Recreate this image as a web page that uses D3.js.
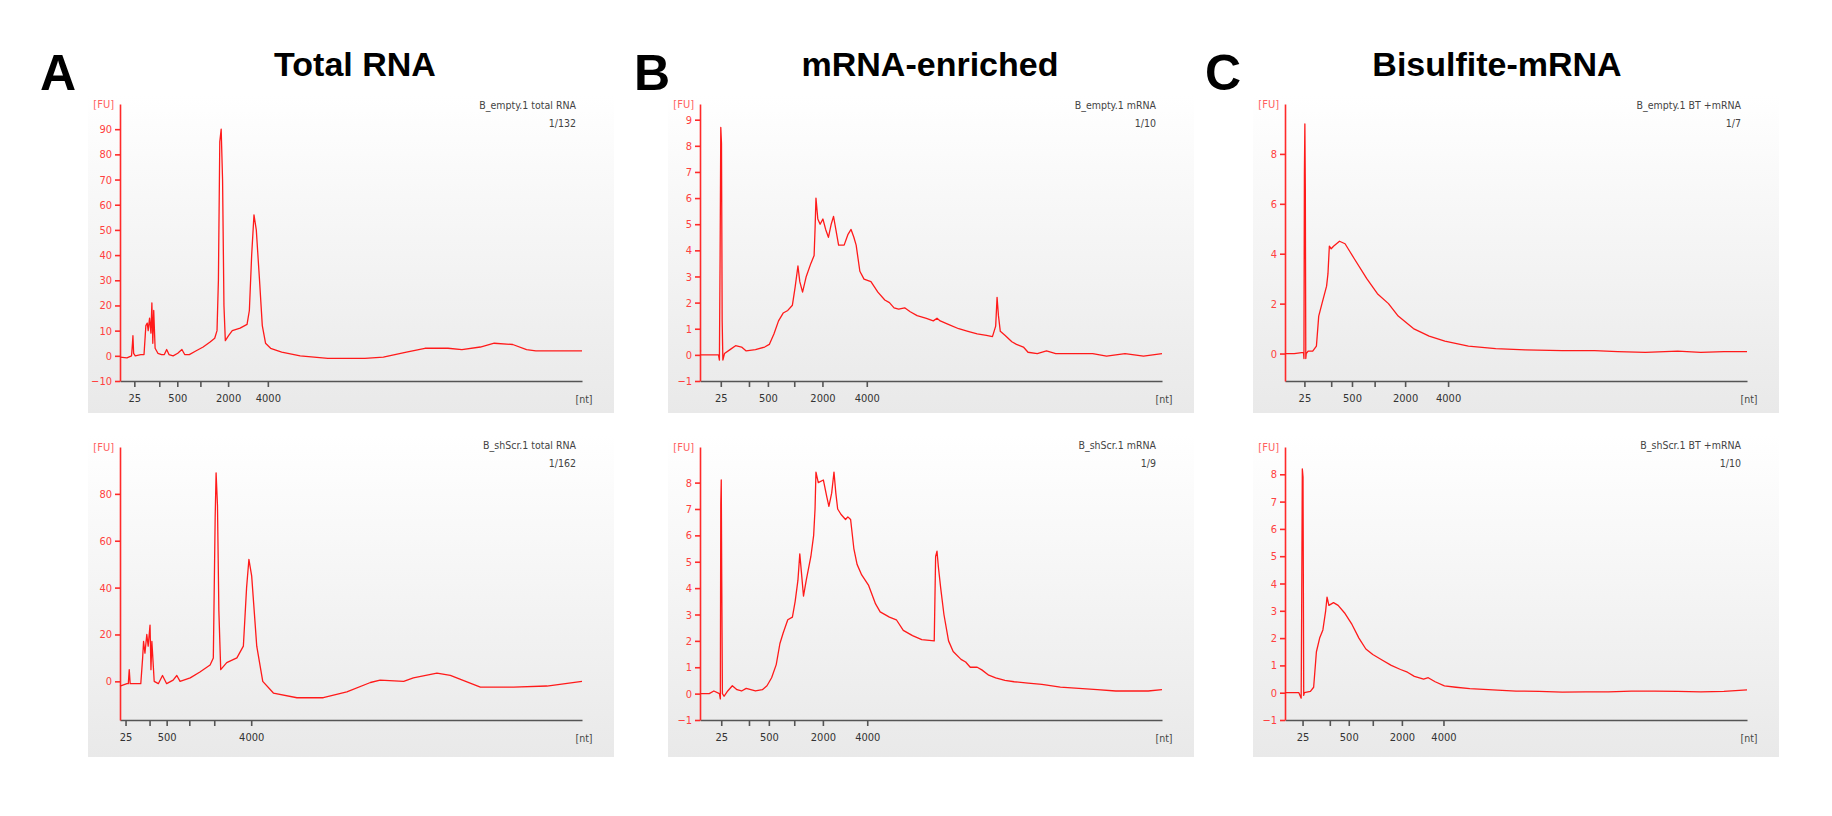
<!DOCTYPE html>
<html>
<head>
<meta charset="utf-8">
<script src="https://cdn.jsdelivr.net/npm/d3@7"></script>
<style>
  body { margin: 0; background: #fff; }
  svg { font-family: "Liberation Sans", Arial, sans-serif; }
  .lbl { font-family: "DejaVu Sans Condensed", "DejaVu Sans", sans-serif; font-size: 10.5px; fill: #444; }
  .yax text { fill: #ff4040; font-family: "DejaVu Sans Condensed", "DejaVu Sans", sans-serif; font-size: 11px; }
  .yax path, .yax line { stroke: #ff2a2a; stroke-width: 1.6px; }
  .xax text { fill: #333; font-family: "DejaVu Sans Condensed", "DejaVu Sans", sans-serif; font-size: 11px; }
  .xax path, .xax line { stroke: #555; stroke-width: 1.6px; }
</style>
</head>
<body>
<svg id="chart" width="1832" height="816"></svg>
<script>
// column titles and panel letters
const letters = ["A", "B", "C"];
const titles = ["Total RNA", "mRNA-enriched", "Bisulfite-mRNA"];

// sample names and dilution per trace (col, row)
const sampleNames = [
  ["B_empty.1 total RNA", "B_shScr.1 total RNA"],
  ["B_empty.1 mRNA", "B_shScr.1 mRNA"],
  ["B_empty.1 BT +mRNA", "B_shScr.1 BT +mRNA"]
];
const dilutions = [["1/132", "1/162"], ["1/10", "1/9"], ["1/7", "1/10"]];

// y ranges [FU] and y tick values
const yDomains = [[[-10, 100], [-16.5, 100]], [[-1, 9.6], [-1, 9.35]], [[-1.1, 10], [-1, 9]]];
const yTicks = [
  [[-10, 0, 10, 20, 30, 40, 50, 60, 70, 80, 90], [0, 20, 40, 60, 80]],
  [[-1, 0, 1, 2, 3, 4, 5, 6, 7, 8, 9], [-1, 0, 1, 2, 3, 4, 5, 6, 7, 8]],
  [[0, 2, 4, 6, 8], [-1, 0, 1, 2, 3, 4, 5, 6, 7, 8]]
];

// ladder tick positions (% of run time) and their labels
const xTickPos = [
  [[3.1, 8.5, 12.4, 17.4, 23.4, 32], [1.2, 6.4, 10.1, 15, 20.4, 28.4]],
  [[4.5, 10.6, 14.7, 20.4, 26.5, 36.1], [4.6, 10.6, 14.9, 20.4, 26.6, 36.2]],
  [[4.2, 10, 14.5, 19.4, 26, 35.3], [3.8, 9.7, 13.8, 19, 25.3, 34.3]]
];
const xTickLabels = [
  [["25", "", "500", "", "2000", "4000"], ["25", "", "500", "", "", "4000"]],
  [["25", "", "500", "", "2000", "4000"], ["25", "", "500", "", "2000", "4000"]],
  [["25", "", "500", "", "2000", "4000"], ["25", "", "500", "", "2000", "4000"]]
];

// electropherogram traces: [time %, FU]
const totalEmpty = [[0,-0.5],[1.5,-0.8],[2.5,0],[2.7,5],[2.8,8],[2.95,1],[3.3,0],[4.5,0.5],[5.2,0.5],[5.6,12],[5.9,13],[6.1,10],[6.4,15],[6.7,9],[6.9,21],[7.1,5],[7.3,18],[7.6,3],[8.2,1],[9,0.5],[9.6,0.5],[10.1,2.5],[10.6,0.5],[11.5,0],[12.5,1],[13.4,2.5],[14,0.5],[15,0.5],[16.5,2],[18,3.5],[19.5,5.5],[20.5,7],[21,10],[21.3,30],[21.6,85],[21.9,90],[22.2,70],[22.5,20],[22.8,6],[23.5,8],[24.3,10],[26,11],[27.5,12.5],[28,18],[28.5,40],[29,56],[29.5,50],[30.2,30],[30.8,12],[31.5,5],[32.6,3],[35,1.5],[39,0],[45,-1],[53,-1],[57,-0.5],[62,1.5],[66,3],[71,3],[74,2.5],[78,3.5],[81,5],[85,4.5],[88,2.5],[90,2],[100,2]];
const totalScr = [[0,-2],[1.5,-1],[1.8,-1],[2,5],[2.2,-1],[4.5,-1],[4.9,10],[5.1,17],[5.4,12],[5.8,20],[6.1,15],[6.5,24],[6.7,5],[6.9,17],[7.4,0],[8.3,-1],[9.2,2.5],[10.1,-1],[11.5,0.5],[12.3,2.5],[13,0],[15.2,1.5],[17.3,4],[19.5,7],[20.2,10],[20.6,70],[20.8,89],[21.1,75],[21.4,30],[21.8,5],[23.1,8],[25.3,10],[26.7,15],[27.4,40],[27.9,52],[28.5,45],[29.6,15],[30.9,0],[33.2,-5],[38.3,-7],[44,-7],[49.1,-4.5],[54.2,-0.5],[56.3,0.5],[61.4,0],[63.5,1.5],[68.6,3.5],[71.5,2.5],[78,-2.5],[85.2,-2.5],[92.4,-2],[100,0]];
const mrnaEmpty = [[0,0],[4,0],[4.2,-0.2],[4.35,3.7],[4.5,8.7],[4.65,8.1],[4.8,1.3],[4.95,-0.2],[5.3,0.05],[6.5,0.2],[7.7,0.35],[9,0.3],[10,0.15],[12,0.2],[14,0.3],[15,0.4],[16,0.8],[17,1.3],[18,1.6],[19,1.7],[20,1.9],[20.6,2.6],[21.2,3.4],[21.6,2.8],[22.2,2.4],[23,3],[24,3.5],[24.7,3.8],[24.9,4.8],[25.1,6],[25.5,5.2],[26,5],[26.6,5.2],[27.2,4.8],[27.8,4.5],[28.4,5],[28.9,5.3],[29.4,4.8],[30,4.2],[31.2,4.2],[32,4.6],[32.7,4.8],[33.3,4.5],[33.8,4.2],[34.6,3.2],[35.5,2.9],[37,2.8],[38.5,2.4],[40,2.1],[41,2],[42,1.8],[43,1.75],[44.3,1.8],[45.5,1.65],[47,1.5],[49,1.4],[50.5,1.3],[51.3,1.4],[52,1.3],[54,1.15],[56,1],[58,0.9],[60,0.8],[62,0.75],[63.3,0.7],[64,1.1],[64.3,2.2],[64.6,1.5],[65,0.9],[66,0.75],[67.5,0.5],[68.5,0.4],[70,0.3],[71,0.1],[73,0.05],[75,0.15],[77,0.05],[80,0.05],[85,0.05],[88,-0.05],[92,0.05],[96,-0.05],[100,0.05]];
const mrnaScr = [[0,0],[2,0],[3,0.1],[4.2,0],[4.4,-0.2],[4.5,7.2],[4.6,8.1],[4.7,4.5],[4.85,0],[5.2,-0.1],[6,0.1],[7,0.3],[8,0.15],[9,0.1],[10,0.2],[11,0.15],[12,0.1],[13.5,0.15],[14.5,0.3],[15.5,0.6],[16.5,1.1],[17.3,1.9],[18,2.3],[19,2.8],[20,2.9],[20.6,3.5],[21.2,4.3],[21.6,5.3],[22,4.5],[22.4,3.7],[23,4.3],[24,5.2],[24.6,6],[24.9,7],[25.1,8.4],[25.6,8],[26.7,8.1],[27.4,7.5],[27.9,7.1],[28.5,7.6],[29,8.4],[29.4,7.6],[29.8,7],[30.5,6.8],[31.5,6.6],[32,6.7],[32.6,6.6],[33.3,5.5],[34,4.9],[35,4.5],[36.5,4.1],[38,3.4],[39,3.1],[41,2.9],[42.5,2.8],[44,2.4],[46,2.2],[48,2.05],[50.7,2],[51,5.2],[51.3,5.4],[51.6,4.8],[52.1,4],[52.8,3],[53.8,2],[54.8,1.6],[56.5,1.3],[57.5,1.2],[58.5,1],[60,1],[61,0.9],[62.5,0.7],[64,0.6],[66,0.5],[68,0.45],[71,0.4],[74,0.35],[78,0.25],[82,0.2],[86,0.15],[90,0.1],[94,0.1],[97,0.1],[100,0.15]];
const bisEmpty = [[0,0],[2,0],[4,0.05],[4.1,-0.2],[4.2,7.2],[4.3,9.2],[4.4,6.6],[4.5,-0.2],[4.6,0],[5,0.1],[6,0.1],[6.8,0.3],[7.3,1.5],[8,2],[9,2.7],[9.3,3.2],[9.6,4.3],[10,4.2],[10.5,4.3],[11.8,4.5],[13,4.4],[14,4.1],[15,3.8],[17.7,3],[20,2.4],[22.4,2],[24.5,1.5],[27.8,1],[31.2,0.7],[34.6,0.5],[39.7,0.3],[45.6,0.2],[52,0.15],[60,0.12],[67,0.12],[72,0.08],[78,0.05],[85,0.1],[90,0.05],[95,0.08],[100,0.08]];
const bisScr = [[0,0],[3,0],[3.5,-0.2],[3.6,2.8],[3.75,8.2],[3.9,7.9],[4.05,-0.1],[4.2,0],[5.5,0.05],[6.2,0.2],[6.8,1.5],[7.5,2],[8.2,2.3],[8.8,3],[9.1,3.5],[9.5,3.2],[10.5,3.3],[11.5,3.2],[13,2.9],[14.5,2.5],[16,2],[17.5,1.6],[19,1.4],[21,1.2],[23,1],[25,0.85],[26.5,0.75],[28,0.6],[30,0.5],[31,0.55],[32.5,0.4],[34.5,0.25],[37,0.2],[40,0.15],[45,0.1],[50,0.06],[55,0.05],[60,0.02],[65,0.03],[70,0.03],[75,0.06],[80,0.06],[85,0.05],[90,0.03],[95,0.05],[100,0.1]];
const traces = [[totalEmpty, totalScr], [mrnaEmpty, mrnaScr], [bisEmpty, bisScr]];

const svg = d3.select("#chart");

const grad = svg.append("defs").append("linearGradient")
  .attr("id", "bg").attr("x1", 0).attr("y1", 0).attr("x2", 0).attr("y2", 1);
grad.append("stop").attr("offset", "0%").attr("stop-color", "#ffffff");
grad.append("stop").attr("offset", "100%").attr("stop-color", "#e9e9e9");

const colAxisX = [120, 700, 1285];
const plotW = 462;
const rowTop = [95, 435], rowAxisTop = [104, 447], rowAxisY = [381, 720], rowBottom = [413, 757];
const letterX = [40, 634, 1205];
const titleX = [355, 930, 1497];

letters.forEach((l, c) => {
  svg.append("text").attr("x", letterX[c]).attr("y", 90)
    .attr("font-size", 50).attr("font-weight", "bold").text(l);
  svg.append("text").attr("x", titleX[c]).attr("y", 76).attr("text-anchor", "middle")
    .attr("font-size", 34).attr("font-weight", "bold").text(titles[c]);
});

for (let c = 0; c < 3; c++) {
  for (let r = 0; r < 2; r++) {
    const x0 = colAxisX[c];
    const g = svg.append("g");
    g.append("rect").attr("x", x0 - 32).attr("y", rowTop[r])
      .attr("width", plotW + 64).attr("height", rowBottom[r] - rowTop[r])
      .attr("fill", "url(#bg)");

    const x = d3.scaleLinear().domain([0, 100]).range([x0, x0 + plotW]);
    const y = d3.scaleLinear().domain(yDomains[c][r]).range([rowAxisY[r], rowAxisTop[r]]);

    g.append("g").attr("class", "xax").attr("transform", `translate(0,${rowAxisY[r]})`)
      .call(d3.axisBottom(x).tickValues(xTickPos[c][r]).tickSize(6).tickSizeOuter(0)
        .tickFormat((d, i) => xTickLabels[c][r][i]))
      .call(a => a.selectAll("text").attr("dy", "1.1em"));

    g.append("g").attr("class", "yax").attr("transform", `translate(${x0},0)`)
      .call(d3.axisLeft(y).tickValues(yTicks[c][r]).tickSize(5).tickSizeOuter(0));

    g.append("text").attr("class", "yax").attr("x", x0 - 6).attr("y", rowAxisTop[r] + 4)
      .attr("text-anchor", "end").attr("fill", "#ff6060")
      .attr("font-size", 11).attr("font-family", "DejaVu Sans Condensed").text("[FU]");
    g.append("text").attr("class", "lbl").attr("x", x0 + plotW + 2).attr("y", rowAxisY[r] + 22)
      .attr("text-anchor", "middle").text("[nt]");
    g.append("text").attr("class", "lbl").attr("x", x0 + plotW - 6).attr("y", rowTop[r] + 14)
      .attr("text-anchor", "end").text(sampleNames[c][r]);
    g.append("text").attr("class", "lbl").attr("x", x0 + plotW - 6).attr("y", rowTop[r] + 32)
      .attr("text-anchor", "end").text(dilutions[c][r]);

    g.append("path").datum(traces[c][r])
      .attr("fill", "none").attr("stroke", "#ff1a1a").attr("stroke-width", 1.3)
      .attr("stroke-linejoin", "round")
      .attr("d", d3.line().x(d => x(d[0])).y(d => y(d[1])));
  }
}
</script>
</body>
</html>
